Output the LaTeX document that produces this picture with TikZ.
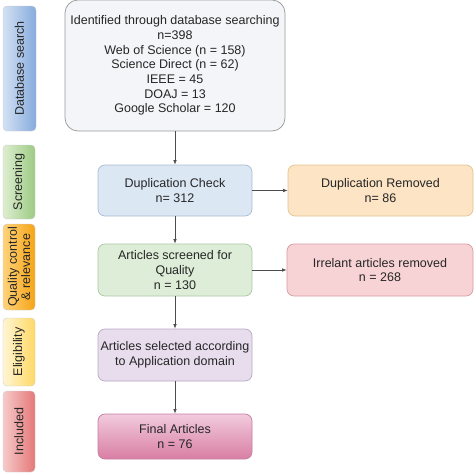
\documentclass[tikz,border=0pt]{standalone}
\usepackage{fontspec}
\setmainfont{Liberation Sans}
\usetikzlibrary{arrows.meta}
\definecolor{dbL}{HTML}{D3E1F3}
\definecolor{dbR}{HTML}{86ABDD}
\definecolor{scL}{HTML}{DDEDD0}
\definecolor{scR}{HTML}{9DCB84}
\definecolor{qcL}{HTML}{FFD27A}
\definecolor{qcR}{HTML}{F5A516}
\definecolor{elL}{HTML}{FFF5D2}
\definecolor{elR}{HTML}{FFD966}
\definecolor{inL}{HTML}{F7CACA}
\definecolor{inR}{HTML}{E57878}
\definecolor{topF}{HTML}{F3F5F8}
\definecolor{dupF}{HTML}{DCE7F4}
\definecolor{dupD}{HTML}{A9BCD3}
\definecolor{remF}{HTML}{FCE4C4}
\definecolor{remD}{HTML}{E2C492}
\definecolor{scrF}{HTML}{DDEDD7}
\definecolor{scrD}{HTML}{ABC9A2}
\definecolor{irrF}{HTML}{F8D3D5}
\definecolor{irrD}{HTML}{D49CA2}
\definecolor{selF}{HTML}{E7DDED}
\definecolor{selD}{HTML}{B9A9C4}
\definecolor{finT}{HTML}{F1CBDD}
\definecolor{finB}{HTML}{D97EA4}
\definecolor{finD}{HTML}{C47E9E}
\begin{document}
\begin{tikzpicture}[x=1pt,y=1pt,
  every node/.style={font=\fontsize{12.5}{14.7}\selectfont, text=black!85, inner sep=0pt, align=center},
  side/.style={rounded corners=4pt, draw=white!80!black, line width=0.4pt, rotate=90},
  box/.style={rounded corners=7pt, line width=0.7pt, minimum width=154pt},
  conn/.style={draw=black!70, line width=0.7pt, -{Latex[length=4.5pt,width=3.5pt]}}
]
\useasboundingbox (0,0) rectangle (474,-474);
% side labels
\node[side, minimum width=125pt, minimum height=33pt, left color=dbL, right color=dbR] (sdb) at (19.5,-68.5) {Database search};
\node[side, minimum width=74pt, minimum height=32pt, left color=scL, right color=scR] (ssc) at (19,-182) {Screening};
\node[side, minimum width=86pt, minimum height=32pt, left color=qcL, right color=qcR] (sqc) at (19,-267) {Quality control\\[-1.5pt]\& relevance};
\node[side, minimum width=68pt, minimum height=32pt, left color=elL, right color=elR] (sel) at (19,-352) {Eligibility};
\node[side, minimum width=81pt, minimum height=32pt, left color=inL, right color=inR] (sin) at (19,-431.5) {Included};
% main boxes
\node[rounded corners=13pt, line width=0.7pt, draw=black!40, fill=topF, minimum width=220pt, minimum height=131pt] (top) at (175,-65.5)
  {Identified through database searching\\n=398\\Web of Science (n = 158)\\Science Direct (n = 62)\\IEEE = 45\\DOAJ = 13\\Google Scholar = 120};
\node[box, draw=dupD, fill=dupF, minimum height=51pt] (dup) at (175,-190.5) {Duplication Check\\n= 312};
\node[box, draw=remD, fill=remF, minimum width=185pt, minimum height=51pt] (rem) at (380.5,-190.5) {Duplication Removed\\n= 86};
\node[box, draw=scrD, fill=scrF, minimum height=52pt] (scr) at (175,-270) {Articles screened for\\Quality\\n = 130};
\node[box, draw=irrD, fill=irrF, minimum width=186pt, minimum height=52pt] (irr) at (380,-270) {Irrelant articles removed\\n = 268};
\node[box, draw=selD, fill=selF, minimum height=52pt] (sel2) at (175,-355) {Articles selected according\\to Application domain};
\node[box, draw=finD, top color=finT, bottom color=finB, minimum height=45pt] (fin) at (175,-436.5) {Final Articles\\n = 76};
% connectors
\draw[conn] (top) -- (dup);
\draw[conn] (dup) -- (rem);
\draw[conn] (dup) -- (scr);
\draw[conn] (scr) -- (irr);
\draw[conn] (scr) -- (sel2);
\draw[conn] (sel2) -- (fin);
\end{tikzpicture}
\end{document}
